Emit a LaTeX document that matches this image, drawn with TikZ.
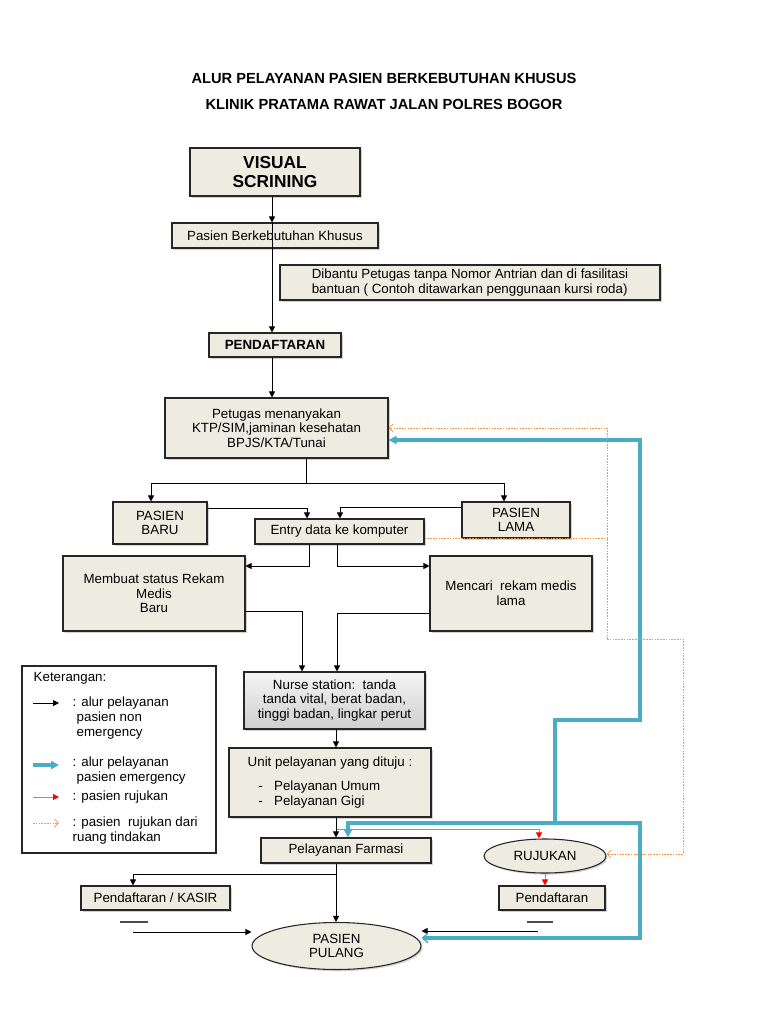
\documentclass[tikz,border=0pt]{standalone}
\usepackage{fontspec}
\setmainfont{Liberation Sans}
\usetikzlibrary{arrows.meta,shapes.geometric,shadows}
\definecolor{boxfill}{RGB}{238,236,225}
\definecolor{emerg}{RGB}{75,172,198}
\definecolor{rujuk}{RGB}{226,110,110}
\definecolor{tindak}{RGB}{247,150,70}
\tikzset{every node/.style={font = \fontsize{10}{11}\selectfont}}
\tikzset{box/.style={draw = black!85, line width = 0.8pt, fill = boxfill, align = center, inner sep = 2pt, drop shadow = {shadow xshift = 1.2pt, shadow yshift = -1.2pt, opacity = 0.35}}}
\tikzset{oval/.style={box, ellipse}}
\tikzset{title/.style={font = \bfseries\fontsize{11}{13}\selectfont}}
\tikzset{flow/.style={draw = black, line width = 0.75pt, -{Triangle[length = 4.5pt, width = 4.5pt]}}}
\tikzset{emergency/.style={draw = emerg, line width = 2.4pt, -{Triangle[length = 6pt, width = 6pt]}}}
\tikzset{rujukan/.style={draw = rujuk, line width = 0.75pt, -{Triangle[length = 4.5pt, width = 4.5pt, color = red]}}}
\tikzset{tindakan/.style={draw = tindak, line width = 0.6pt, dash pattern = on 1.2pt off 0.9pt, -{Straight Barb[length = 3pt, width = 6pt]}}}

\begin{document}
\begin{tikzpicture}[x = 0.75pt, y = -0.75pt]
  \fill[white] (0,0) rectangle (768,1024);
  \useasboundingbox (0,0) rectangle (768,1024);

  \node (T1) at (384,78) [title] {ALUR PELAYANAN PASIEN BERKEBUTUHAN KHUSUS};
  \node (T2) at (384,104) [title] {KLINIK PRATAMA RAWAT JALAN POLRES BOGOR};

  \node (VS) at (275,172) [box, minimum width = 127.5pt, minimum height = 36pt, font = \bfseries\fontsize{13}{14}\selectfont] {VISUAL\\SCRINING};
  \node (PBK) at (275,235.5) [box, minimum width = 154.5pt, minimum height = 18.75pt] {Pasien Berkebutuhan Khusus};
  \node (DB) at (470,282.5) [box, align = left, minimum width = 285pt, minimum height = 26.25pt] {Dibantu Petugas tanpa Nomor Antrian dan di fasilitasi\\bantuan ( Contoh ditawarkan penggunaan kursi roda)};
  \node (PD) at (275,345) [box, minimum width = 99pt, minimum height = 18pt, font = \bfseries\fontsize{10}{11}\selectfont] {PENDAFTARAN};
  \node (PT) at (276.5,428) [box, minimum width = 167.25pt, minimum height = 45pt] {Petugas menanyakan\\KTP/SIM,jaminan kesehatan\\BPJS/KTA/Tunai};
  \node (PB) at (160,523) [box, minimum width = 70.5pt, minimum height = 31.5pt] {PASIEN\\BARU};
  \node (PL) at (516,520) [box, minimum width = 81pt, minimum height = 27pt] {PASIEN\\LAMA};
  \node (ED) at (339.5,531.5) [box, minimum width = 126.75pt, minimum height = 18.75pt] {Entry data ke komputer};
  \node (RB) at (154,593.5) [box, minimum width = 136.5pt, minimum height = 56.25pt] {Membuat status Rekam\\Medis\\Baru};
  \node (RL) at (511,593.5) [box, minimum width = 121.5pt, minimum height = 56.25pt] {Mencari\ \ rekam medis\\lama};
  \node (NS) at (334.5,700.5) [box, top color = gray!8, bottom color = gray!38, minimum width = 135.75pt, minimum height = 42.75pt] {Nurse station:\ \ tanda\\tanda vital, berat badan,\\tinggi badan, lingkar perut};
  \node (UP) at (330,782.5) [box, align = left, minimum width = 151.5pt, minimum height = 51.75pt] {Unit pelayanan yang dituju :\\[7.5pt]\hspace*{8pt}-\hspace*{8.5pt}Pelayanan Umum\\\hspace*{8pt}-\hspace*{8.5pt}Pelayanan Gigi};
  \node (PF) at (346,850.5) [box, minimum width = 127.5pt, minimum height = 18.75pt] {Pelayanan Farmasi};
  \node (KS) at (155.5,898) [box, minimum width = 111.75pt, minimum height = 18pt] {Pendaftaran / KASIR};
  \node (RJ) at (545,856) [oval, minimum width = 91.5pt, minimum height = 25.5pt] {RUJUKAN};
  \node (PR) at (552,898) [box, minimum width = 79.5pt, minimum height = 18pt] {Pendaftaran};
  \node (PP) at (336.5,946) [oval, minimum width = 126.75pt, minimum height = 35.25pt] {PASIEN\\PULANG};

  \coordinate (xm) at (272,0);
  \coordinate (S1) at (306,483);
  \coordinate (xb) at (151,0);
  \coordinate (xl) at (504,0);
  \coordinate (yb) at (0,508);
  \coordinate (xe1) at (307,0);
  \coordinate (yl) at (0,507.5);
  \coordinate (xe2) at (340,0);
  \coordinate (ys) at (0,566);
  \coordinate (xd1) at (309,0);
  \coordinate (xd2) at (337,0);
  \coordinate (yr1) at (0,611);
  \coordinate (xn1) at (302,0);
  \coordinate (yr2) at (0,613);
  \coordinate (xn2) at (337,0);
  \coordinate (xc) at (336,0);
  \coordinate (K1) at (133,874);

  \draw[flow] (VS.south -| xm) -- (PBK.north -| xm);
  \draw[flow] (PBK.north -| xm) -- (PD.north -| xm);
  \draw[flow] (PD.south -| xm) -- (PT.north -| xm);
  \draw (PT.south -| S1) -- (S1);
  \draw[flow] (S1) -| (PB.north -| xb);
  \draw[flow] (S1) -| (PL.north -| xl);
  \draw[flow] (PB.east |- yb) -| (ED.north -| xe1);
  \draw[flow] (PL.west |- yl) -| (ED.north -| xe2);
  \draw[flow] (ED.south -| xd1) |- (RB.east |- ys);
  \draw[flow] (ED.south -| xd2) |- (RL.west |- ys);
  \draw[flow] (RB.east |- yr1) -| (NS.north -| xn1);
  \draw[flow] (RL.west |- yr2) -| (NS.north -| xn2);
  \draw[flow] (NS.south -| xc) -- (UP.north -| xc);
  \draw[flow] (UP.south -| xc) -- (PF.north -| xc);
  \draw[flow] (PF.south -| xc) -- (PP.north -| xc);
  \draw[flow] (K1 -| xc) -- (K1) -- (KS.north -| K1);

  \coordinate (DL) at (120,922);
  \coordinate (DR) at (527,922);
  \draw[black!70, line width = 1pt] (DL) -- ++(28,0);
  \draw[black!70, line width = 1pt] (DR) -- ++(26,0);
  \coordinate (AL) at (133,932);
  \coordinate (AR) at (538,931);
  \draw[flow] (AL) -- (AL -| PP.west);
  \draw[flow] (AR) -- (AR -| PP.east);

  \coordinate (R1) at (337,829);
  \coordinate (xr) at (539,0);
  \draw[rujukan] (R1) -| (RJ.north -| xr);
  \draw[rujukan] (RJ.south) -- (RJ.south |- PR.north);

  \coordinate (O1) at (607,428);
  \coordinate (O2) at (607,639);
  \coordinate (O3) at (683,639);
  \coordinate (O4) at (683,854);
  \coordinate (Oe) at (607,538);
  \draw[tindakan, -] (ED.east |- Oe) -- (Oe);
  \draw[tindakan] (O2) -- (O1) -- (PT.east |- O1);
  \draw[tindakan] (O2) -- (O3) -- (O4) -- (RJ.east |- O4);

  \coordinate (B1) at (640,440);
  \coordinate (B2) at (640,720);
  \coordinate (B3) at (555,720);
  \coordinate (B4) at (555,823);
  \coordinate (B5) at (348,823);
  \coordinate (B6) at (640,823);
  \coordinate (B7) at (640,938);
  \draw[emergency] (B4) -- (B3) -- (B2) -- (B1) -- (PT.east |- B1);
  \draw[emergency] (B4) -- (B5) -- (PF.north -| B5);
  \draw[emergency, -{Straight Barb[length = 4pt, width = 7pt, line width = 1pt]}] (B4) -- (B6) -- (B7) -- (PP.east |- B7);

  \node (KET) at (119,759.5) [draw = black!85, line width = 0.8pt, minimum width = 145.5pt, minimum height = 140.25pt] {};
  \node (K0) at (29,678) [anchor = west] {Keterangan:};
  \foreach \y/\s [count = \i] in {703/flow, 765/emergency, 797/rujukan, 823/tindakan} {
    \coordinate (LA\i) at (33,\y);
    \coordinate (LB\i) at (59,\y);
    \draw[\s] (LA\i) -- (LB\i);
  }
  \node (K1) at (68,718) [anchor = west, align = left] {: alur pelayanan\\\hspace*{3pt}pasien non\\\hspace*{3pt}emergency};
  \node (K2) at (68,770.5) [anchor = west, align = left] {: alur pelayanan\\\hspace*{3pt}pasien emergency};
  \node (K3) at (68,797) [anchor = west] {: pasien rujukan};
  \node (K4) at (68,830.5) [anchor = west, align = left] {: pasien\ \ rujukan dari\\ruang tindakan};
\end{tikzpicture}
\end{document}
